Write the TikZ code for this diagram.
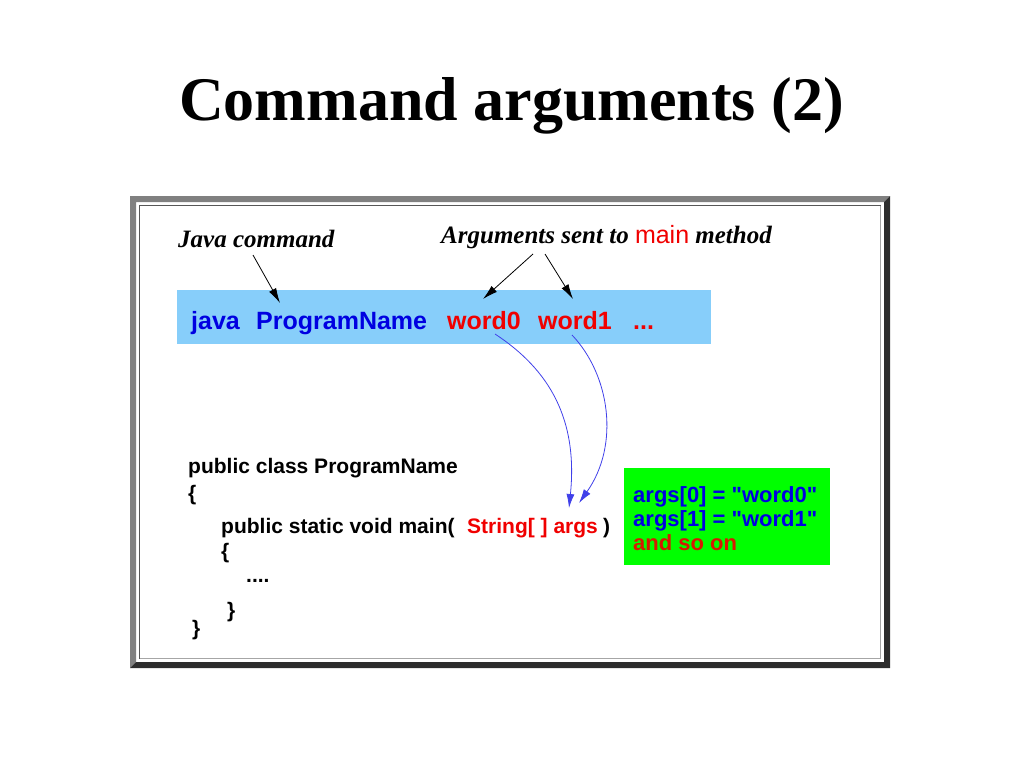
\documentclass[tikz,border=0pt]{standalone}
\usepackage{fontspec}
\setmainfont{Liberation Serif}
\setsansfont{Liberation Sans}
\usetikzlibrary{positioning, calc, arrows.meta}
\definecolor{barblue}{RGB}{135,206,250}
\definecolor{cmdblue}{RGB}{0,0,225}
\definecolor{cmdred}{RGB}{240,0,0}
\definecolor{onred}{RGB}{215,25,0}
\definecolor{boxgreen}{RGB}{0,255,0}
\definecolor{framegray}{RGB}{128,128,128}
\definecolor{framedark}{RGB}{45,45,45}
\tikzset{
	lbl/.style={anchor=base west, inner sep=0pt, font=\bfseries\itshape\fontsize{25}{25}\selectfont},
	cmd/.style={anchor=base west, inner sep=0pt, font=\sffamily\bfseries\fontsize{25}{25}\selectfont, text=cmdblue},
	code/.style={anchor=base west, inner sep=0pt, font=\sffamily\bfseries\fontsize{21}{21}\selectfont},
	boxtext/.style={code, font=\sffamily\bfseries\fontsize{22}{22}\selectfont, text=cmdblue},
	pointer/.style={-{Latex[length=15pt,width=8pt]}, line width=0.8pt},
	flow/.style={-{Latex[length=14pt,width=8pt]}, line width=0.8pt, cmdblue!75!white},
}

\begin{document}
\begin{tikzpicture}[x=1pt, y=-1pt]
	\useasboundingbox (0,0) rectangle (1024,768);
	\node[anchor=base, inner sep=0pt, font=\bfseries\fontsize{62}{62}\selectfont] (title) at (511.5,120) {Command arguments (2)};
	% frame
	\fill[framegray] (130,668) -- (130,196) -- (890,196) -- (884,202) -- (136,202) -- (136,662) --cycle;
	\fill[framedark] (890,196) -- (890,668) -- (130,668) -- (136,662) -- (884,662) -- (884,202) --cycle;
	\draw[framedark!80, line width=1pt] (139.5,658.5) -- (139.5,205.5) -- (880.5,205.5);
	\draw[framegray!70, line width=1pt] (880.5,205.5) -- (880.5,658.5) -- (139.5,658.5);

	\node[fill=barblue, anchor=north west, minimum width=534pt, minimum height=54pt, inner sep=0pt] (bar) at (177,290) {};
	\node[cmd] (java) at (191,329) {java};
	\node[cmd] (pname) at (256,329) {ProgramName};
	\node[cmd, text=cmdred] (word0) at (447,329) {word0};
	\node[cmd, text=cmdred] (word1) at (538,329) {word1};
	\node[cmd, text=cmdred] (more) at (633,329) {...};

	\node[lbl] (jcmd) at (178,247) {Java command};
	\node[lbl] (argsent) at (441,243) {Arguments sent to \textcolor{cmdred}{\sffamily\mdseries\upshape main} method};

	\draw[pointer] ([xshift=75pt, yshift=-8pt]jcmd.base west) -- ([xshift=24pt, yshift=26pt]pname.base west);
	\draw[pointer] ([xshift=92pt, yshift=-11pt]argsent.base west) -- ([xshift=36pt, yshift=30pt]word0.base west);
	\draw[pointer] ([xshift=104pt, yshift=-11pt]argsent.base west) -- ([xshift=35pt, yshift=30pt]word1.base west);

	\node[code] (cls) at (188,473) {public class ProgramName};
	\node[code] (clsopen) at (188,500) {\{};
	\node[code] (mainsig) at (221,533) {public static void main(};
	\node[code, text=cmdred] (argstr) at (467,533) {String[ ] args};
	\node[code] (sigclose) at (603,533) {)};
	\node[code] (mainopen) at (221,558) {\{};
	\node[code] (body) at (246,582) {....};
	\node[code] (mainclose) at (227,617) {\}};
	\node[code] (clsclose) at (192,635) {\}};

	\draw[flow] ([xshift=48pt, yshift=-5pt]word0.base west) .. controls (550,370) and (578,420) .. ([xshift=102pt, yshift=25pt]argstr.base west);
	\draw[flow] ([xshift=34pt, yshift=-6pt]word1.base west) .. controls (610,375) and (620,445) .. ([xshift=112pt, yshift=30pt]argstr.base west);

	\node[fill=boxgreen, anchor=north west, minimum width=206pt, minimum height=97pt, inner sep=0pt] (argbox) at (624,468) {};
	\node[boxtext] (arg0) at (633,502) {args[0] = \textquotedbl word0\textquotedbl};
	\node[boxtext] (arg1) at (633,526) {args[1] = \textquotedbl word1\textquotedbl};
	\node[boxtext, text=onred] (soon) at (633,550) {and so on};
\end{tikzpicture}
\end{document}
